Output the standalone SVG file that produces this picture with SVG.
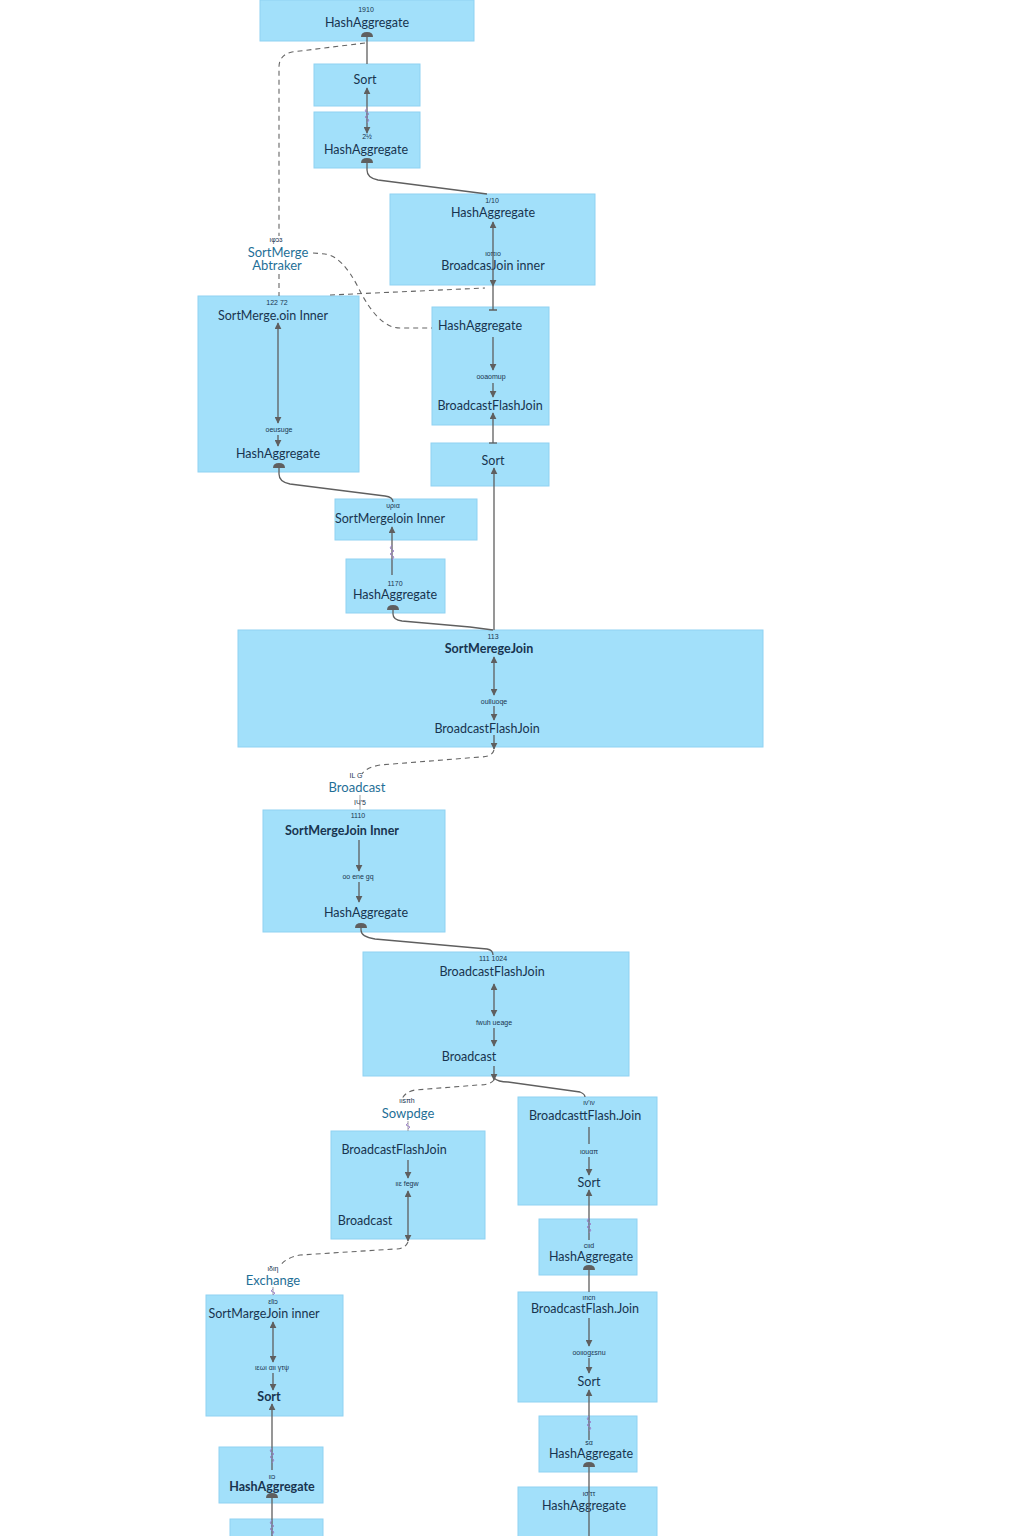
<svg xmlns="http://www.w3.org/2000/svg" width="1024" height="1536" viewBox="0 0 1024 1536">
<defs>
<style>
.n{fill:#a2e0fa;stroke:#8fd2f2;stroke-width:1}
.t{font-family:Lato,"Open Sans","Liberation Sans",sans-serif;font-size:12.5px;fill:#18344f;text-anchor:middle}
.b{font-weight:bold}
.s{font-family:"Liberation Sans","DejaVu Sans",sans-serif;font-size:7px;fill:#18344f;text-anchor:middle}
.l{font-family:Lato,"Open Sans","Liberation Sans",sans-serif;font-size:13px;fill:#1f6f97;text-anchor:middle}
.c{fill:none;stroke:#5f5f5f;stroke-width:1.3}
.d{fill:none;stroke:#666;stroke-width:1.1;stroke-dasharray:5 4}
.q{fill:none;stroke:#9a7ec8;stroke-width:0.9}
.th{fill:none;stroke:#888;stroke-width:0.8}
</style>
<marker id="a" viewBox="0 0 10 10" refX="9" refY="5" markerWidth="7" markerHeight="7" orient="auto-start-reverse" markerUnits="userSpaceOnUse"><path d="M0,0 L10,5 L0,10 z" fill="#5f5f5f"/></marker>
<marker id="m" viewBox="0 0 5 12" refX="4" refY="6" markerWidth="5" markerHeight="12" orient="auto-start-reverse" markerUnits="userSpaceOnUse"><path d="M0,0 Q5,0 5,6 Q5,12 0,12 z" fill="#5f5f5f"/></marker>
</defs>

<g id="nodes">
<g id="n1"><rect class="n" x="260" y="0" width="214" height="41"/><text class="s" x="366" y="12">1910</text><text class="t" x="367" y="27">HashAggregate</text></g>
<g id="n2"><rect class="n" x="314" y="64" width="106" height="42"/><text class="t" x="365" y="84">Sort</text></g>
<g id="n3"><rect class="n" x="314" y="112" width="106" height="56"/><text class="s" x="367" y="139">2½</text><text class="t" x="366" y="154">HashAggregate</text></g>
<g id="n4"><rect class="n" x="390" y="194" width="205" height="91"/><text class="s" x="492" y="203">1/10</text><text class="t" x="493" y="217">HashAggregate</text><text class="s" x="493" y="256">ιοπιο</text><text class="t" x="493" y="270">BroadcasJoin inner</text></g>
<g id="n5"><rect class="n" x="198" y="296" width="161" height="176"/><text class="s" x="277" y="305">122 72</text><text class="t" x="273" y="320">SortMerge.oin Inner</text><text class="s" x="279" y="432">oeusuge</text><text class="t" x="278" y="458">HashAggregate</text></g>
<g id="n6"><rect class="n" x="432" y="307" width="117" height="118"/><text class="t" x="480" y="330">HashAggregate</text><text class="s" x="491" y="379">ooaomup</text><text class="t" x="490" y="410">BroadcastFlashJoin</text></g>
<g id="n7"><rect class="n" x="431" y="443" width="118" height="43"/><text class="t" x="493" y="465">Sort</text></g>
<g id="n8"><rect class="n" x="335" y="499" width="142" height="41"/><text class="s" x="393" y="508">υρια</text><text class="t" x="390" y="523">SortMergeloin Inner</text></g>
<g id="n9"><rect class="n" x="346" y="559" width="99" height="54"/><text class="s" x="395" y="586">1170</text><text class="t" x="395" y="599">HashAggregate</text></g>
<g id="n10"><rect class="n" x="238" y="630" width="525" height="117"/><text class="s" x="493" y="639">113</text><text class="t b" x="489" y="653">SortMeregeJoin</text><text class="s" x="494" y="704">oulluoqe</text><text class="t" x="487" y="733">BroadcastFlashJoin</text></g>
<g id="n11"><rect class="n" x="263" y="810" width="182" height="122"/><text class="s" x="358" y="818">1110</text><text class="t b" x="342" y="835">SortMergeJoin Inner</text><text class="s" x="358" y="879">oo ene gq</text><text class="t" x="366" y="917">HashAggregate</text></g>
<g id="n12"><rect class="n" x="363" y="952" width="266" height="124"/><text class="s" x="493" y="961">111 1024</text><text class="t" x="492" y="976">BroadcastFlashJoin</text><text class="s" x="494" y="1025">fwuh ueage</text><text class="t" x="469" y="1061">Broadcast</text></g>
<g id="n13"><rect class="n" x="331" y="1131" width="154" height="108"/><text class="t" x="394" y="1154">BroadcastFlashJoin</text><text class="s" x="407" y="1186">ιιε fegw</text><text class="t" x="365" y="1225">Broadcast</text></g>
<g id="n14"><rect class="n" x="518" y="1097" width="139" height="108"/><text class="s" x="589" y="1105">ιν'ιν</text><text class="t" x="585" y="1120">BroadcasttFlash.Join</text><text class="s" x="589" y="1154">ιοuαπ</text><text class="t" x="589" y="1187">Sort</text></g>
<g id="n15"><rect class="n" x="539" y="1219" width="98" height="56"/><text class="s" x="589" y="1248">cιιd</text><text class="t" x="591" y="1261">HashAggregate</text></g>
<g id="n16"><rect class="n" x="518" y="1292" width="139" height="110"/><text class="s" x="589" y="1300">ιrιcn</text><text class="t" x="585" y="1313">BroadcastFlash.Join</text><text class="s" x="589" y="1355">ooιιοgεsnu</text><text class="t" x="589" y="1386">Sort</text></g>
<g id="n17"><rect class="n" x="539" y="1416" width="98" height="56"/><text class="s" x="589" y="1445">sα</text><text class="t" x="591" y="1458">HashAggregate</text></g>
<g id="n18"><rect class="n" x="518" y="1487" width="139" height="55"/><text class="s" x="589" y="1496">ισ'ττ</text><text class="t" x="584" y="1510">HashAggregate</text></g>
<g id="n19"><rect class="n" x="206" y="1295" width="137" height="121"/><text class="s" x="273" y="1304">ε̃ιιɔ</text><text class="t" x="264" y="1318">SortMargeJoin inner</text><text class="s" x="272" y="1370">ιεωι αιι γτψ</text><text class="t b" x="269" y="1401">Sort</text></g>
<g id="n20"><rect class="n" x="219" y="1447" width="104" height="56"/><text class="s" x="272" y="1479">ιιɔ</text><text class="t b" x="272" y="1491">HashAggregate</text></g>
<g id="n21"><rect class="n" x="230" y="1519" width="93" height="25"/></g>
<g id="lb1"><text class="s" x="276" y="242">ιφɔɜ</text><text class="l" x="278" y="257">SortMerge</text><text class="l" x="277" y="270">Abtraker</text></g>
<g id="lb2"><text class="s" x="356" y="778">ΙL G</text><text class="l" x="357" y="792">Broadcast</text><text class="s" x="360" y="805">ΙЧ'5</text></g>
<g id="lb3"><text class="s" x="407" y="1103">ιιsπh</text><text class="l" x="408" y="1118">Sowpdge</text></g>
<g id="lb4"><text class="s" x="273" y="1271">ιδιη</text><text class="l" x="273" y="1285">Exchange</text></g>
</g>

<g id="connectors">
<path class="c" d="M367,64 V33" marker-end="url(#m)"/>
<path class="c" d="M367,88 V133" marker-start="url(#a)" marker-end="url(#a)"/>
<path class="q" d="M367,108 l-2,3 l4,3 l-4,3 l4,3 l-2,3"/>
<path class="c" d="M487,194 L378,180 Q367,178 367,170 V159" marker-end="url(#m)"/>
<path class="c" d="M493,222 V286" marker-start="url(#a)" marker-end="url(#a)"/>
<path class="c" d="M493,286 V310 M489,310 H497"/>
<path class="d" d="M365,43 L292,52 Q279,55 279,67 V236"/>
<path class="d" d="M279,274 V296"/>
<path class="d" d="M313,253 L325,254 Q342,256 358,287 Q378,328 400,328 L432,328"/>
<path class="d" d="M330,295 L485,288"/>
<path class="c" d="M278,323 V423" marker-start="url(#a)" marker-end="url(#a)"/>
<path class="c" d="M278,435 V446" marker-end="url(#a)"/>
<path class="c" d="M393,502 Q393,497 385,496 L290,484 Q279,482 279,474 V464" marker-end="url(#m)"/>
<path class="c" d="M493,337 V370" marker-end="url(#a)"/>
<path class="c" d="M493,383 V397" marker-end="url(#a)"/>
<path class="c" d="M493,443 V413" marker-end="url(#a)"/>
<path class="c" d="M489,443 H497"/>
<path class="c" d="M494,630 V468" marker-end="url(#a)"/>
<path class="c" d="M392,575 V527" marker-end="url(#a)"/>
<path class="q" d="M392,545 l-2,3 l4,3 l-4,3 l4,3 l-2,3"/>
<path class="c" d="M493,630 L470,627 L402,621 Q393,620 393,614 V606" marker-end="url(#m)"/>
<path class="c" d="M494,657 V695" marker-start="url(#a)" marker-end="url(#a)"/>
<path class="c" d="M494,706 V720" marker-end="url(#a)"/>
<path class="c" d="M494,735 V749" marker-end="url(#a)"/>
<path class="d" d="M494,750 Q492,757 480,757 L380,765 Q365,768 362,774"/>
<path class="th" d="M360,795 V810"/>
<path class="c" d="M359,840 V871" marker-end="url(#a)"/>
<path class="c" d="M359,882 V902" marker-end="url(#a)"/>
<path class="c" d="M493,955 Q493,950 487,949 L375,939 Q361,937 361,930 V924" marker-end="url(#m)"/>
<path class="c" d="M494,984 V1016" marker-start="url(#a)" marker-end="url(#a)"/>
<path class="c" d="M494,1028 V1046" marker-end="url(#a)"/>
<path class="c" d="M494,1066 V1080" marker-end="url(#a)"/>
<path class="d" d="M494,1080 Q490,1085 478,1085 L415,1090 Q405,1092 402,1099"/>
<path class="c" d="M494,1078 Q498,1082 508,1082 L580,1092 Q585,1094 585,1097"/>
<path class="th" d="M408,1121 V1131"/>
<path class="q" d="M408,1123 l-2,2 l4,2 l-2,2"/>
<path class="c" d="M408,1160 V1178" marker-end="url(#a)"/>
<path class="c" d="M408,1191 V1241" marker-start="url(#a)" marker-end="url(#a)"/>
<path class="d" d="M408,1242 Q405,1249 395,1249 L300,1255 Q285,1258 280,1266"/>
<path class="c" d="M589,1127 V1144"/>
<path class="c" d="M589,1157 V1175" marker-end="url(#a)"/>
<path class="c" d="M589,1240 V1190" marker-end="url(#a)"/>
<path class="q" d="M589,1218 l-2,3 l4,3 l-4,3 l4,3 l-2,3"/>
<path class="c" d="M589,1292 V1266" marker-end="url(#m)"/>
<path class="c" d="M589,1318 V1346" marker-end="url(#a)"/>
<path class="c" d="M589,1358 V1373" marker-end="url(#a)"/>
<path class="c" d="M589,1440 V1390" marker-end="url(#a)"/>
<path class="q" d="M589,1416 l-2,3 l4,3 l-4,3 l4,3 l-2,3"/>
<path class="c" d="M589,1536 V1463" marker-end="url(#m)"/>
<path class="th" d="M273,1287 V1295"/>
<path class="q" d="M273,1289 l-2,2 l4,2 l-2,2"/>
<path class="c" d="M273,1322 V1362" marker-start="url(#a)" marker-end="url(#a)"/>
<path class="c" d="M273,1373 V1390" marker-end="url(#a)"/>
<path class="c" d="M272,1470 V1404" marker-end="url(#a)"/>
<path class="q" d="M272,1448 l-2,3 l4,3 l-4,3 l4,3 l-2,3"/>
<path class="c" d="M272,1536 V1494" marker-end="url(#m)"/>
<path class="q" d="M272,1520 l-2,3 l4,3 l-4,3 l4,3 l-2,3"/>
</g>
</svg>
